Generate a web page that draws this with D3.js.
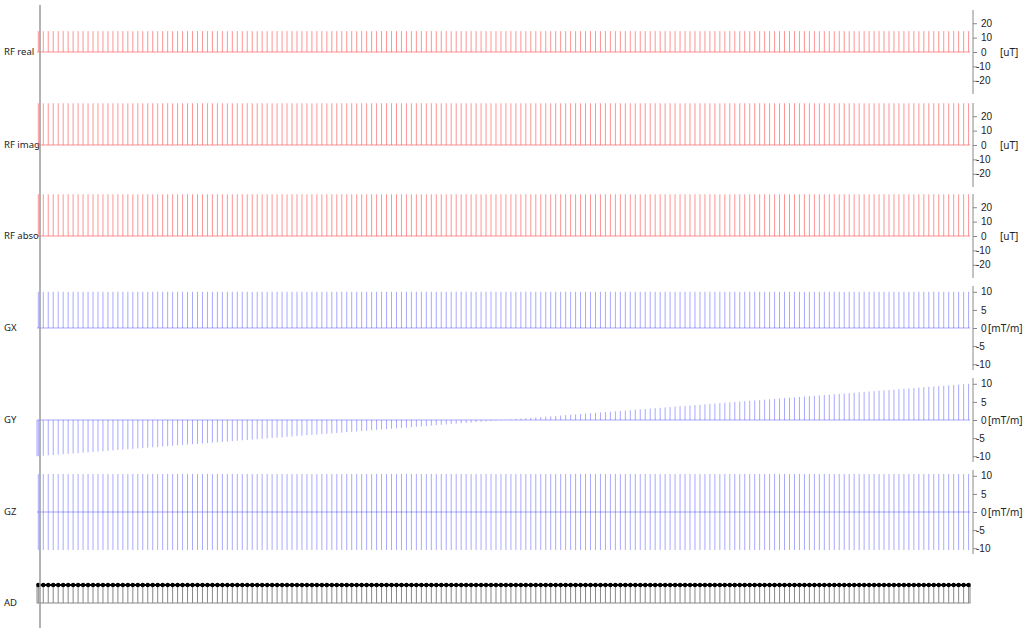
<!DOCTYPE html>
<html lang="en">
<head>
<meta charset="UTF-8">
<title>Sequence</title>
<style>
  body, html { margin: 0; padding: 0; background: #fff; font-family: "Noto Sans", Arial, sans-serif; }
  svg text { font-size: 9.5px; fill: #222; }
  .axis path, .axis line { stroke: #888; }
</style>
</head>
<body>
<div id="chart"></div>
<script src="https://d3js.org/d3.v7.min.js"></script>
<script>
// channels, top to bottom
const channels = ["RF real", "RF imag", "RF abso", "GX", "GY", "GZ", "AD"];
const units = ["[uT]", "[uT]", "[uT]", "[mT/m]", "[mT/m]", "[mT/m]", ""];
const zeroY = [52, 145, 236, 328, 420, 512, 603];
const rfTicks = [-20, -10, 0, 10, 20];
const gTicks = [-10, -5, 0, 5, 10];
// pulse amplitudes
const rfAmp = [14.5, 29, 29];
const gxAmp = 10;
const gzAmp = [-10.5, 10.5];
const nTR = 188;
const trIndex = d3.range(nTR);
// phase encode table, -10 .. +10 mT/m
const gyAmp = trIndex.map(i => -10 + 20 * i / (nTR - 1));

const W = 1024, H = 628;
const svg = d3.select("#chart").append("svg").attr("width", W).attr("height", H);

const x = d3.scaleLinear().domain([0, nTR - 1]).range([38.3, 968.6]);

function yScale(k) {
  const z = zeroY[k];
  if (k < 3) return d3.scaleLinear().domain([-28.5, 28.5]).range([z + 41, z - 41]);
  return d3.scaleLinear().domain([-11.6, 11.6]).range([z + 42, z - 42]);
}

const red = "rgba(255,60,60,0.55)";
const blue = "rgba(40,40,255,0.4)";

channels.forEach((name, k) => {
  svg.append("text").attr("x", 4).attr("y", zeroY[k] + 3).text(name);
  if (k === 6) return;
  const y = yScale(k);
  const col = k < 3 ? red : blue;
  const g = svg.append("g");
  // baseline
  g.append("line").attr("x1", 37).attr("x2", 970)
    .attr("y1", y(0)).attr("y2", y(0)).attr("stroke", col).attr("stroke-width", 1.2);
  let lo, hi;
  if (k < 3) { lo = () => 0; hi = () => rfAmp[k]; }
  else if (k === 3) { lo = () => 0; hi = () => gxAmp; }
  else if (k === 4) { lo = () => 0; hi = i => gyAmp[i]; }
  else { lo = () => gzAmp[0]; hi = () => gzAmp[1]; }
  g.selectAll("line.p").data(trIndex).enter().append("line")
    .attr("class", "p")
    .attr("x1", i => x(i)).attr("x2", i => x(i))
    .attr("y1", i => y(lo(i))).attr("y2", i => y(hi(i)))
    .attr("stroke", col).attr("stroke-width", 1);
  if (k === 4) {
    // first GY lobe sits just left of the axis
    g.append("line").attr("x1", 37).attr("x2", 37)
      .attr("y1", y(0)).attr("y2", y(-10)).attr("stroke", col);
  }
  // right axis
  const ax = svg.append("g").attr("class", "axis")
    .attr("transform", "translate(973,0)")
    .call(d3.axisRight(y).tickValues(k < 3 ? rfTicks : gTicks).tickSize(4).tickFormat(d => d));
  ax.select(".domain").attr("d", `M0,${zeroY[k] - 42}V${zeroY[k] + 42}`);
  ax.selectAll("text").style("font-size", "10px").attr("x", d => d < 0 ? 3 : 8);
  svg.append("text").attr("x", k < 3 ? 1000 : 988).attr("y", y(0) + 3.5)
    .style("font-size", "10px").text(units[k]);
});

// ADC
const adTop = 585, adBot = 603;
const ad = svg.append("g");
ad.selectAll("line.a").data(trIndex).enter().append("line")
  .attr("x1", i => x(i)).attr("x2", i => x(i))
  .attr("y1", adTop).attr("y2", adBot).attr("stroke", "#888");
ad.append("rect").attr("x", 37).attr("y", adTop).attr("width", 933).attr("height", adBot - adTop)
  .attr("fill", "none").attr("stroke", "#888");
ad.append("line").attr("x1", 37).attr("x2", 970).attr("y1", adTop).attr("y2", adTop)
  .attr("stroke", "#000").attr("stroke-width", 2);
ad.selectAll("circle").data(trIndex).enter().append("circle")
  .attr("cx", i => x(i)).attr("cy", adTop).attr("r", 2.2).attr("fill", "#000");

// time axis (left)
svg.append("line").attr("x1", 40).attr("x2", 40).attr("y1", 5).attr("y2", 628)
  .attr("stroke", "#999").attr("stroke-width", 1.5);
</script>
</body>
</html>
